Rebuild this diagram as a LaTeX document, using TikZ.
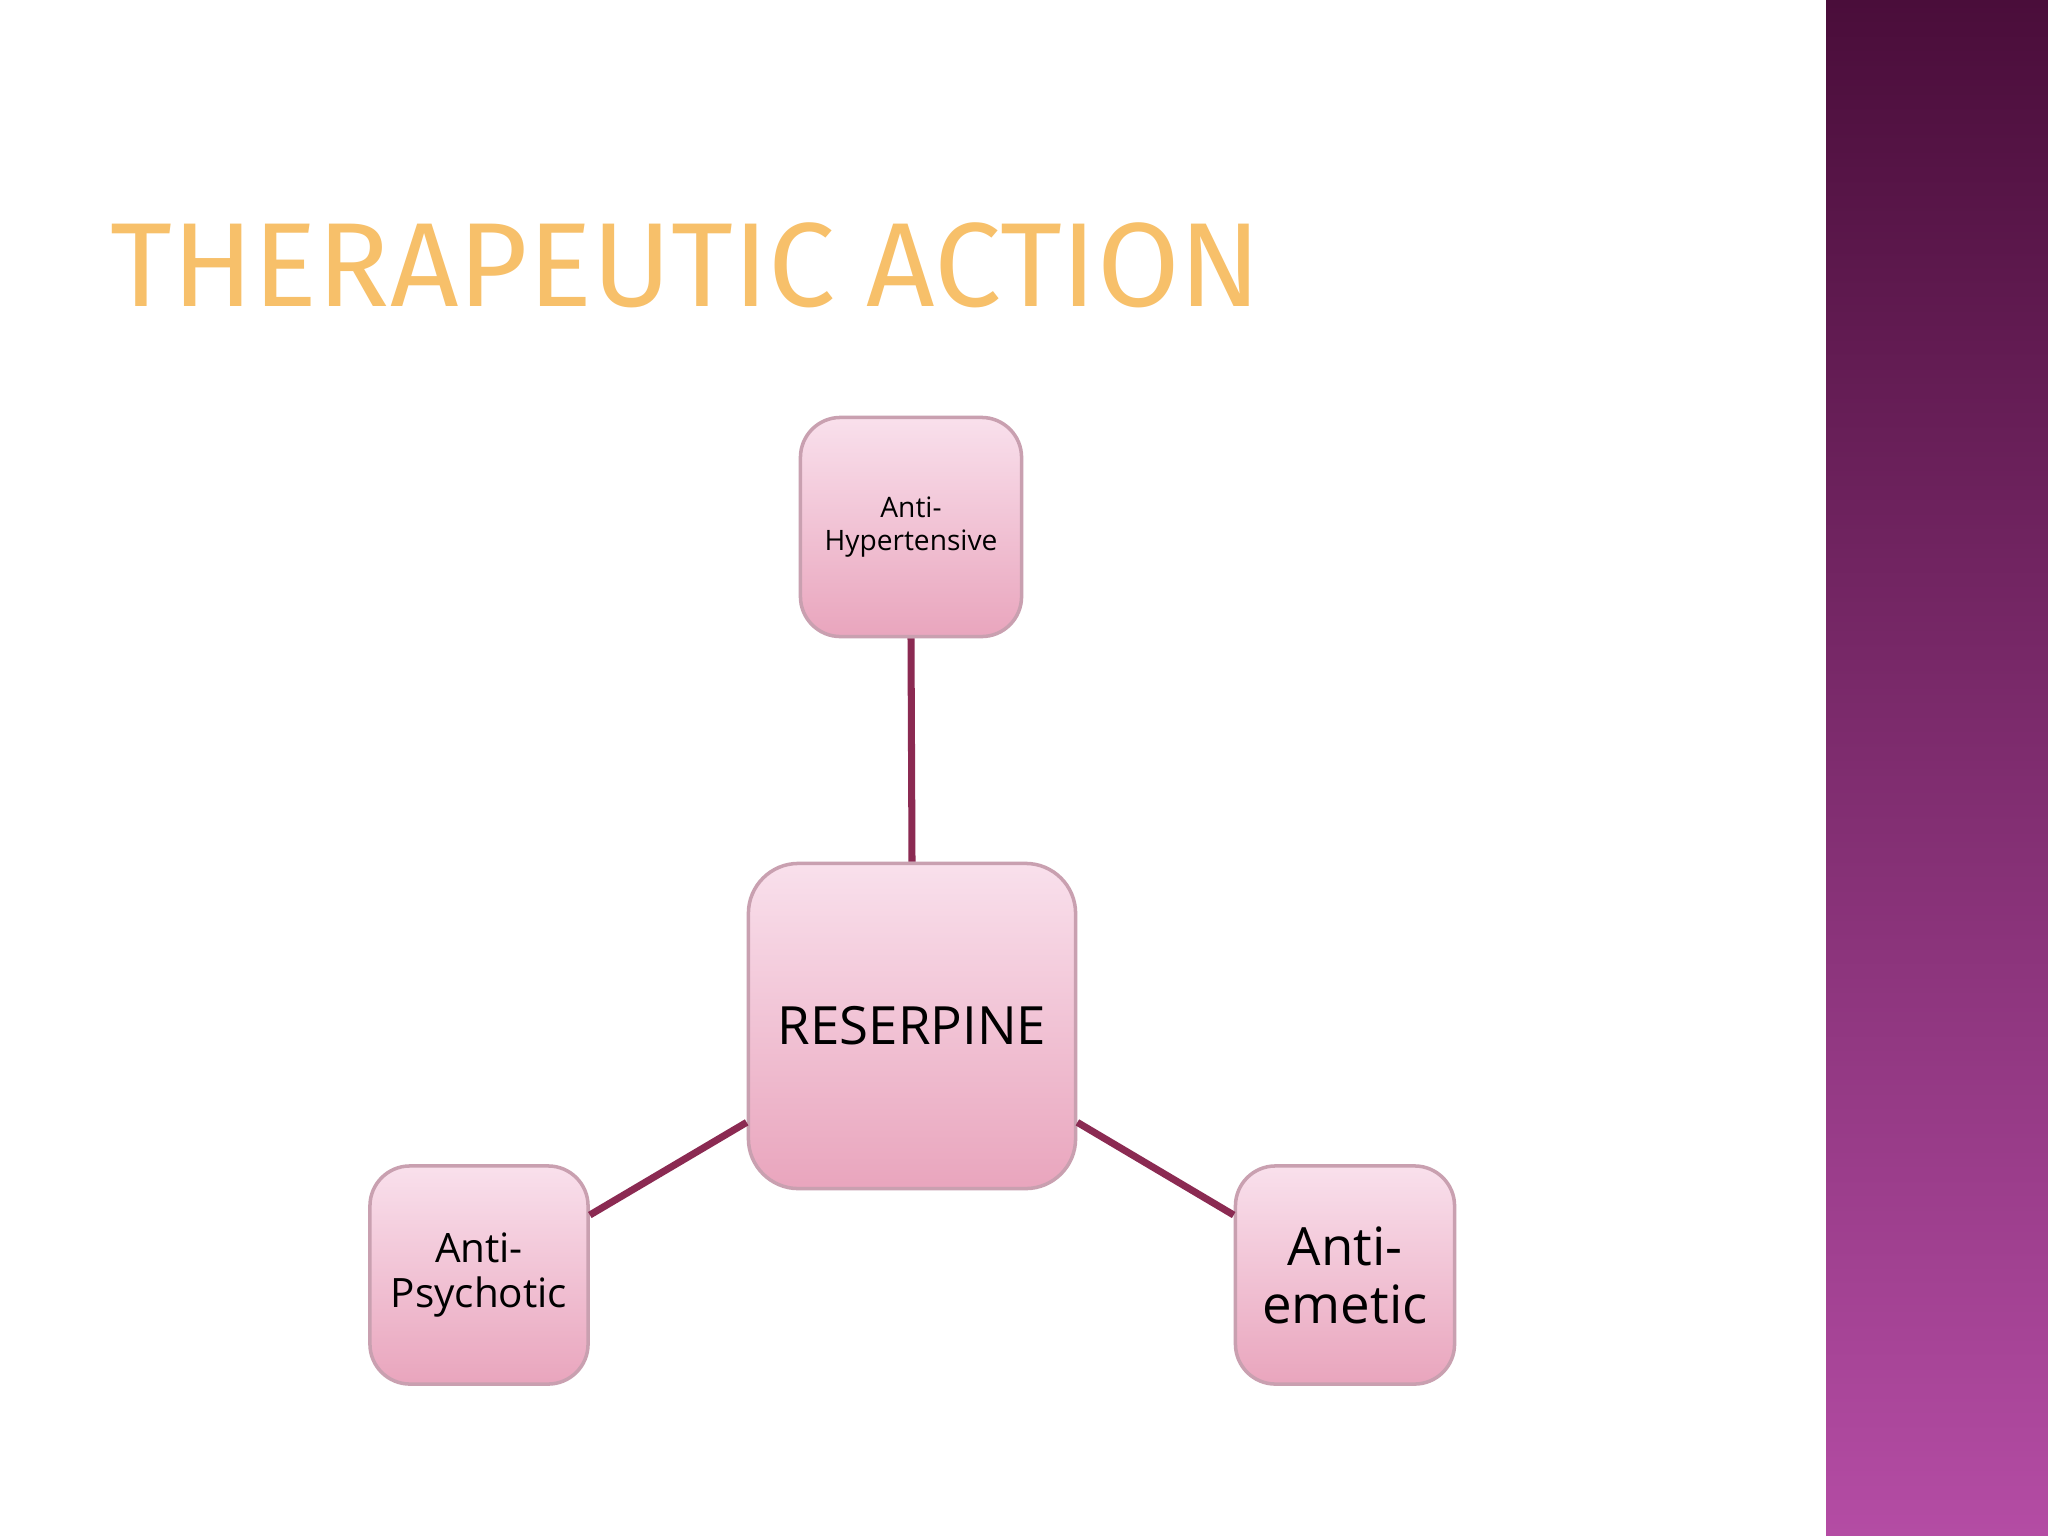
\documentclass[tikz,border=0pt]{standalone}
\usepackage{fontspec}
\setmainfont{Open Sans}
\newfontfamily\titlefont{Fira Sans}
\definecolor{linec}{HTML}{8B2A52}
\definecolor{boxtop}{HTML}{F9E0EC}
\definecolor{boxbot}{HTML}{E9A5BD}
\definecolor{boxedge}{HTML}{C9A0B0}
\definecolor{bandtop}{HTML}{4A0D3A}
\definecolor{bandbot}{HTML}{B44CA4}
\definecolor{titlec}{HTML}{F7C06A}
\tikzset{
  pbox/.style={draw=boxedge, line width=1pt, rounded corners=0.4cm, top color=boxtop, bottom color=boxbot, align=center, inner sep=0pt},
  conn/.style={draw=linec, line width=2pt}
}
\begin{document}
\begin{tikzpicture}[x=0.01cm,y=-0.01cm]
\useasboundingbox (0,0) rectangle (2048,1536);
\fill[white] (0,0) rectangle (2048,1536);
\shade[top color=bandtop, bottom color=bandbot] (1826,0) rectangle (2048,1536);
\node[anchor=west, text=titlec, font=\titlefont\fontsize{34}{34}\selectfont, inner sep=0pt] (title) at (110,265) {THERAPEUTIC ACTION};
\node[pbox, minimum width=221\pgflinewidth, minimum width=2.21cm, minimum height=2.19cm, font=\fontsize{8}{9.5}\selectfont] (top) at (911,527) {Anti-\\Hypertensive};
\node[pbox, minimum width=3.27cm, minimum height=3.25cm, rounded corners=0.5cm, font=\fontsize{15}{18}\selectfont] (mid) at (912,1026) {RESERPINE};
\node[pbox, minimum width=2.18cm, minimum height=2.18cm, font=\fontsize{11.5}{13}\selectfont] (left) at (479,1275) {Anti-\\Psychotic};
\node[pbox, minimum width=2.19cm, minimum height=2.18cm, font=\fontsize{15}{16.5}\selectfont] (right) at (1345,1275) {Anti-\\emetic};
\draw[conn] (top.south) -- (mid.north);
\draw[conn] (mid.south west) ++(0,-68) coordinate (ml) (ml) -- (left.north east |- 0,1215) coordinate (lp);
\draw[conn] (mid.south east) ++(0,-68) coordinate (mr) (mr) -- (right.north west |- 0,1215);
\end{tikzpicture}
\end{document}
